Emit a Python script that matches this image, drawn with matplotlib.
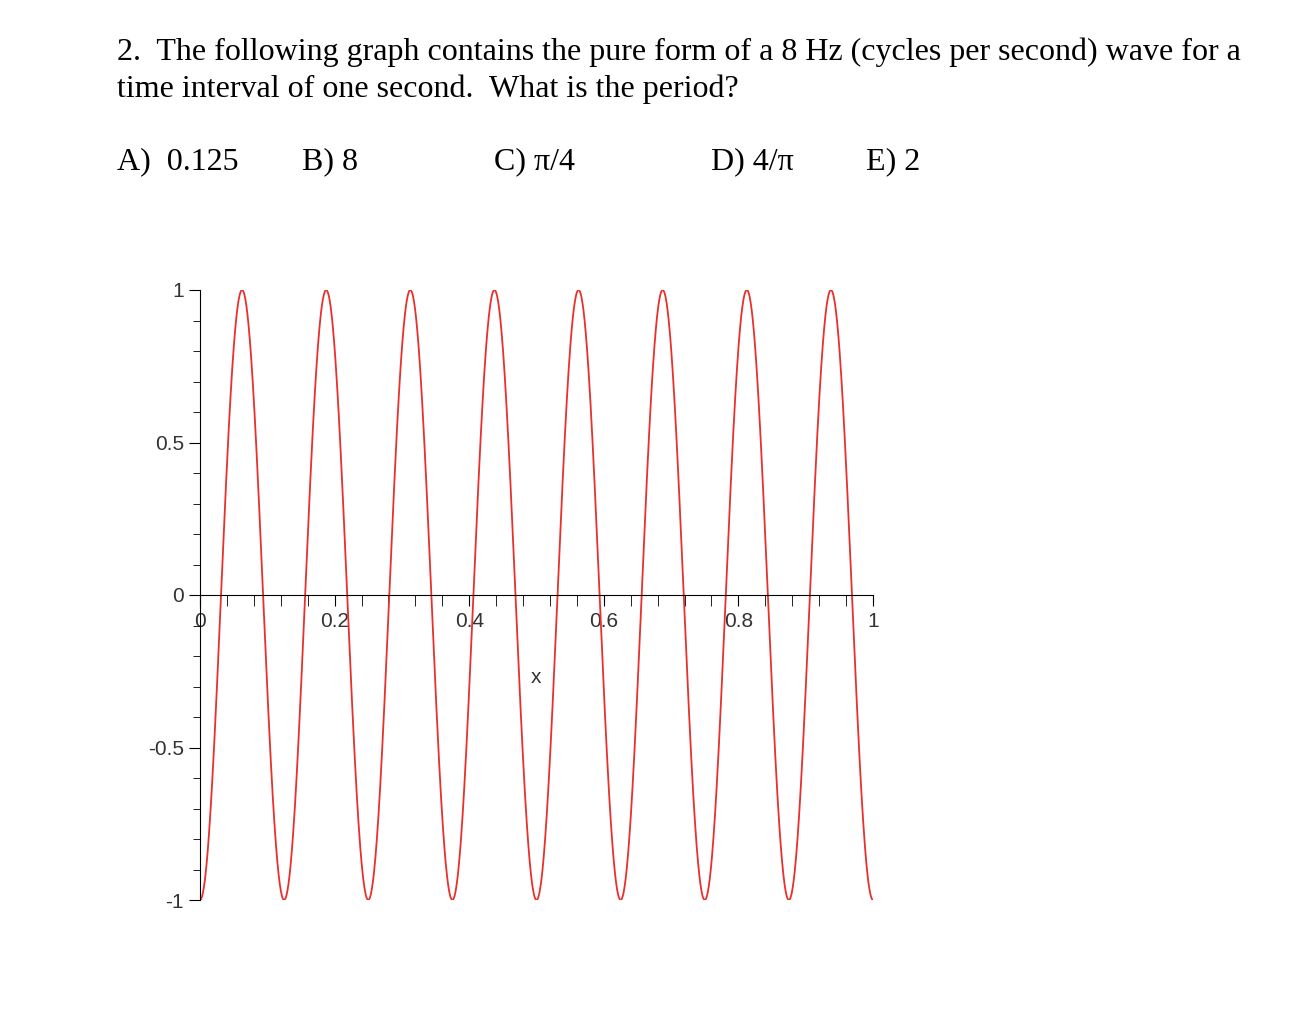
import numpy as np
import matplotlib
matplotlib.use("Agg")
import matplotlib.pyplot as plt
from matplotlib.ticker import MultipleLocator

frequency = 8  # Hz
x_range = [0, 1]
xticks = [0, 0.2, 0.4, 0.6, 0.8, 1]
xticklabels = ["0", "0.2", "0.4", "0.6", "0.8", "1"]
yticks = [-1, -0.5, 0, 0.5]
yticklabels = ["-1", "-0.5", "0", "0.5"]
yticks_top = [1]

fig = plt.figure(figsize=(13.04, 10.16), dpi=100)
serif = "Liberation Serif"
fs = 23
fig.text(117/1304, 1-52/1016, "2.  The following graph contains the pure form of a 8 Hz (cycles per second) wave for a",
         family=serif, fontsize=fs, va="center")
fig.text(117/1304, 1-89/1016, "time interval of one second.  What is the period?",
         family=serif, fontsize=fs, va="center")
for xp, t in [(117, "A)  0.125"), (302, "B) 8"), (494, "C) π/4"), (711, "D) 4/π"), (866, "E) 2")]:
    fig.text(xp/1304, 1-162/1016, t, family=serif, fontsize=fs, va="center")

ax = fig.add_axes([200/1304, 1-900/1016, 673/1304, 610/1016])
x = np.linspace(x_range[0], x_range[1], 2000)
y = -np.cos(2*np.pi*frequency*x)
ax.plot(x, y, color="#e8302c", lw=1.3)
ax.set_xlim(0, 1)
ax.set_ylim(-1, 1)
for s in ["top", "right"]:
    ax.spines[s].set_visible(False)
ax.spines["bottom"].set_position(("data", 0))
ax.spines["left"].set_position(("data", 0))
ax.set_xticks(xticks)
ax.set_xticklabels(xticklabels, family="Liberation Sans", fontsize=15, color="#333333")
ax.set_yticks(yticks + yticks_top)
ax.set_yticklabels(yticklabels + ["1"], family="Liberation Sans", fontsize=15, color="#333333")
ax.xaxis.set_minor_locator(MultipleLocator(0.04))
ax.yaxis.set_minor_locator(MultipleLocator(0.1))
ax.tick_params(axis="x", which="both", direction="out", length=8, pad=4)
ax.tick_params(axis="y", which="major", direction="out", length=8)
ax.tick_params(axis="y", which="minor", direction="out", length=5)
ax.text(0.5, -0.27, "x", family="Liberation Sans", fontsize=15, color="#333333", ha="center", va="center")
fig.savefig("out.png", dpi=100)
